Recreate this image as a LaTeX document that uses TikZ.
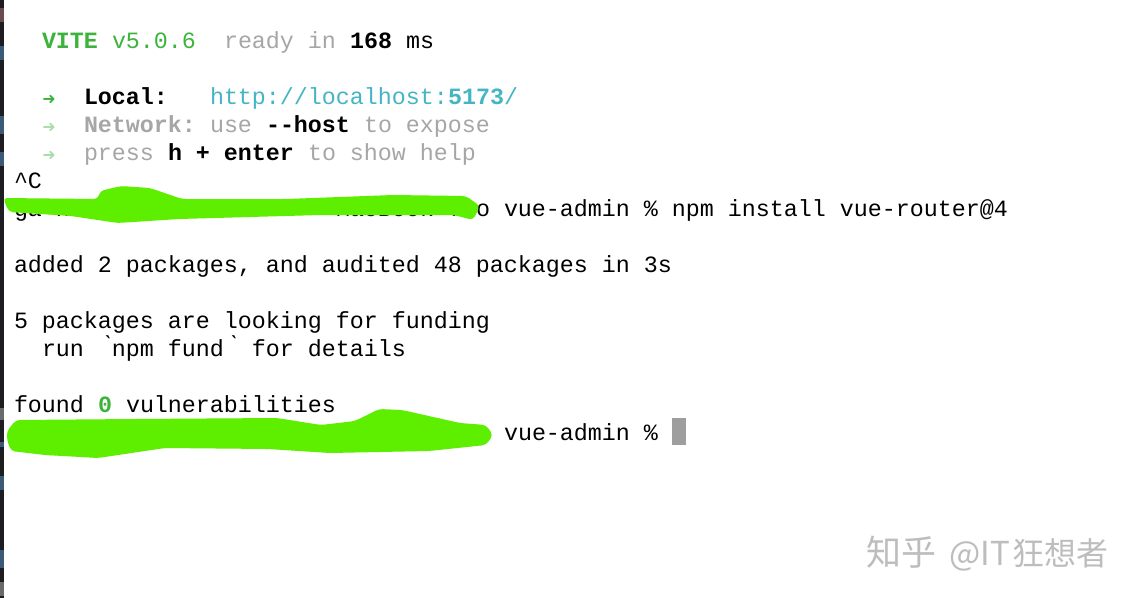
\documentclass[tikz,border=0pt]{standalone}
\usepackage{fontspec}
\setmonofont{Liberation Mono}
\newfontfamily\arrowfont{DejaVu Sans}
\newfontfamily\cjkfont{Noto Sans CJK SC}
\definecolor{vgreen}{HTML}{3CB43C}
\definecolor{vgray}{HTML}{A6A6A6}
\definecolor{vpale}{HTML}{A9DDA9}
\definecolor{vcyan}{HTML}{45B5C4}
\definecolor{scribble}{HTML}{5DEE00}
\definecolor{strip}{HTML}{1E1E22}
\definecolor{wm}{HTML}{BDBDBD}
\definecolor{bitblue}{HTML}{3B5A78}
\definecolor{bitred}{HTML}{6B4A50}
\definecolor{bitgray}{HTML}{6A6A6A}
\newcommand{\arw}[1]{\makebox[14pt][c]{\textcolor{#1}{\arrowfont\fontsize{16}{16}\selectfont ➜}}}
\newcommand{\gr}[1]{\textcolor{vgray}{#1}}
\tikzset{
  x=1pt,y=-1pt,
  term/.style={anchor=base west,inner sep=0pt,outer sep=0pt,font=\fontsize{23.33}{28}\selectfont\ttfamily,text=black},
  scrib/.style={fill=scribble,draw=none,rounded corners=4pt},
  wmark/.style={anchor=base west,inner sep=0pt,text=wm}
}
\begin{document}
\begin{tikzpicture}
\useasboundingbox (0,0) rectangle (1136,598);
\fill[white] (0,0) rectangle (1136,598);
\fill[strip] (0,0) rectangle (4,598);
\fill[bitred] (0,8) rectangle (4,22);
\fill[bitblue] (0,46) rectangle (4,60);
\fill[bitblue] (0,116) rectangle (4,134);
\fill[bitblue] (0,152) rectangle (4,166);
\fill[bitgray] (0,408) rectangle (4,420);
\fill[bitblue] (0,442) rectangle (4,447);
\fill[bitblue] (0,476) rectangle (4,490);
\fill[bitblue] (0,550) rectangle (4,568);
\fill[bitgray] (0,582) rectangle (4,596);
\node[term] (l1) at (42,48) {\textcolor{vgreen}{\textbf{VITE} v5.0.6}\ \ \gr{ready in} \textbf{168} ms};
\node[term] (l2) at (42,104) {\arw{vgreen}\ \ \textbf{Local:}\ \ \ \textcolor{vcyan}{http://localhost:\textbf{5173}/}};
\node[term] (l3) at (42,132) {\arw{vpale}\ \ \gr{\textbf{Network:} use} \textbf{--host} \gr{to expose}};
\node[term] (l4) at (42,160) {\arw{vpale}\ \ \gr{press} \textbf{h + enter} \gr{to show help}};
\node[term] (l5) at (14,188) {\string^C};
\node[term] (l6a) at (14,216) {ga h};
\node[term] (l6b) at (336,216) {MacBook ?};
\node[term] (l6) at (476,216) {o vue-admin \% npm install vue-router@4};
\node[term] (l7) at (14,272) {added 2 packages, and audited 48 packages in 3s};
\node[term] (l8) at (14,328) {5 packages are looking for funding};
\node[term] (l9) at (42,356) {run \`{}npm fund\`{} for details};
\node[term] (l10) at (14,412) {found \textcolor{vgreen}{\textbf{0}} vulnerabilities};
\node[term] (l11) at (504,440) {vue-admin \%};
\fill[scrib] (3,198) -- (98,199) -- (100,191) -- (121,186) -- (150,188) -- (182,199) -- (286,199) -- (393,195) -- (466,196) -- (480,206) -- (473,220) -- (454,215) -- (321,215) -- (179,219) -- (118,223) -- (71,216) -- (9,212) -- cycle;
\fill[scrib] (7,431) -- (16,420) -- (134,419) -- (277,418) -- (321,425) -- (355,421) -- (379,409) -- (402,410) -- (460,423) -- (486,425) -- (493,435) -- (486,445) -- (429,451) -- (330,453) -- (268,449) -- (165,448) -- (98,458) -- (45,455) -- (11,451) -- (7,440) -- cycle;
\fill[vgray!95!black] (672,418) rectangle (686,445);
\node[wmark,font=\cjkfont\fontsize{35}{35}\selectfont] (w1) at (866,565) {知乎};
\node[wmark,font=\cjkfont\fontsize{33}{33}\selectfont] (w2) at (949,565) {@IT};
\node[wmark,font=\cjkfont\fontsize{32}{32}\selectfont] (w3) at (1012,565) {狂想者};
\end{tikzpicture}
\end{document}
